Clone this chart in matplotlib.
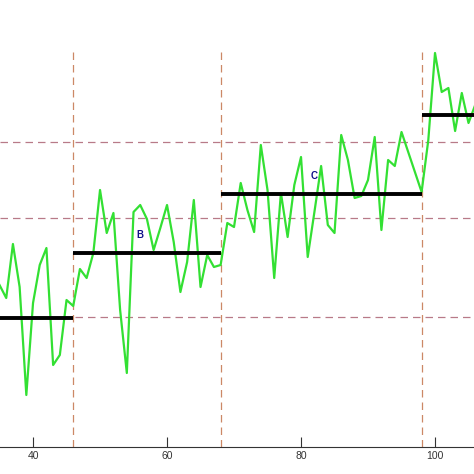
import numpy as np
import matplotlib
matplotlib.use("Agg")
import matplotlib.pyplot as plt

plt.rcParams['font.family'] = ['Liberation Sans', 'DejaVu Sans']

# series (one value per integer x)
x_vals = list(range(35, 107))
y_vals = [16.2, 14.9, 20.3, 16.0, 5.2, 14.4, 18.2, 19.9, 8.2, 9.2,
          14.7, 14.1, 17.8, 16.9, 19.4, 25.7, 21.4, 23.4, 13.7, 7.4,
          23.5, 24.2, 22.8, 19.7, 21.9, 24.2, 20.5, 15.5, 18.5, 24.7,
          16.0, 19.2, 18.0, 18.2, 22.4, 22.0, 26.4, 23.7, 21.5, 30.2,
          25.7, 16.9, 25.4, 21.0, 26.2, 29.0, 19.0, 23.5, 28.1, 22.2,
          21.4, 31.2, 28.7, 24.9, 25.1, 26.7, 31.0, 21.7, 28.7, 28.1,
          31.5, 29.5, 27.5, 25.5, 30.7, 39.4, 35.5, 35.9, 31.6, 35.4,
          32.4, 34.2]

# segment boundaries and segment means
breaks = [46, 68, 98]
seg_start = [35, 46, 68, 98]
seg_end = [46, 68, 98, 106]
seg_level = [12.9, 19.4, 25.3, 33.2]
h_levels = [13.0, 22.9, 30.5]
break_top = 39.7

labels = ['B', 'C']
label_x = [56.0, 81.9]
label_y = [21.2, 27.1]

fig = plt.figure(figsize=(4.74, 4.74), dpi=100)
ax = fig.add_axes([0, 27/474, 1, 447/474])

for h in h_levels:
    ax.axhline(h, color='#b87a88', lw=0.9, ls=(0, (6, 4)), zorder=1)
for b in breaks:
    ax.plot([b, b], [0, break_top], color='#cc8866', lw=0.9, ls=(0, (6, 4)), zorder=1)

ax.plot(x_vals, y_vals, color='#33e033', lw=1.6, zorder=2)

for s, e, lv in zip(seg_start, seg_end, seg_level):
    ax.plot([s, e], [lv, lv], color='black', lw=2.8, zorder=3, solid_capstyle='butt')

for t, lx, ly in zip(labels, label_x, label_y):
    ax.text(lx, ly, t, color='#10108a', fontsize=7, fontweight='bold',
            ha='center', va='center', zorder=4)

ax.set_xlim(35.07, 105.82)
ax.set_ylim(0, 44.7)
ax.set_xticks([40, 60, 80, 100])
ax.set_yticks([])
for side in ['left', 'right', 'top']:
    ax.spines[side].set_visible(False)
ax.spines['bottom'].set_linewidth(0.8)
ax.spines['bottom'].set_color('#333333')
ax.tick_params(axis='x', direction='in', length=7, width=0.8, pad=3,
               labelsize=7.5, color='#333333', labelcolor='#333333')

fig.savefig('out.png', dpi=100)
